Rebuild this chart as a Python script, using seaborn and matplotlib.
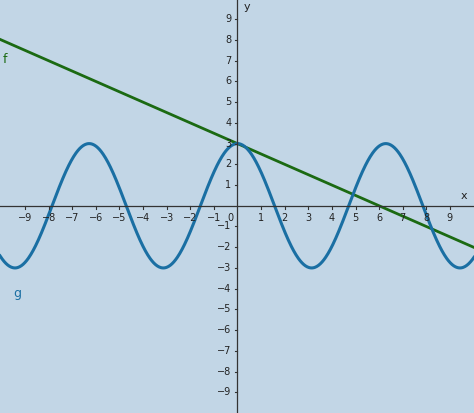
import numpy as np
import pandas as pd
import matplotlib
matplotlib.use("Agg")
import matplotlib.pyplot as plt
import seaborn as sns

f_slope = -0.5
f_intercept = 3.0
g_amplitude = 3.0
x_ticks = [-9, -8, -7, -6, -5, -4, -3, -2, -1, 1, 2, 3, 4, 5, 6, 7, 8, 9]
y_ticks = [-9, -8, -7, -6, -5, -4, -3, -2, -1, 1, 2, 3, 4, 5, 6, 7, 8, 9]
xlim = (-10.06, 10.02)
ylim = (-10.0, 9.93)

xs = np.linspace(xlim[0], xlim[1], 800)
df = pd.DataFrame({"x": xs, "f": f_slope * xs + f_intercept, "g": g_amplitude * np.cos(xs)})

bg = "#c2d6e6"
fig = plt.figure(figsize=(4.74, 4.13), dpi=100, facecolor=bg)
ax = fig.add_axes([0, 0, 1, 1])
ax.set_facecolor(bg)
sns.lineplot(data=df, x="x", y="f", ax=ax, color="#1b6a12", lw=2)
sns.lineplot(data=df, x="x", y="g", ax=ax, color="#1a6fa3", lw=2.2)
ax.set_xlim(*xlim)
ax.set_ylim(*ylim)
for s in ax.spines.values():
    s.set_visible(False)
ax.set_xticks([]); ax.set_yticks([])
ax.set_xlabel(""); ax.set_ylabel("")
ax.axhline(0, color="#333333", lw=0.9)
ax.axvline(0, color="#333333", lw=0.9)
fs = 7
for t in x_ticks:
    ax.plot([t, t], [0, -0.15], color="#333333", lw=0.8)
    ax.text(t, -0.35, f"{t}".replace("-", "−"), ha="center", va="top", fontsize=fs, color="#222222")
ax.text(-0.3, -0.35, "0", ha="center", va="top", fontsize=fs, color="#222222")
for t in y_ticks:
    ax.plot([0, -0.12], [t, t], color="#333333", lw=0.8)
    ax.text(-0.25, t, f"{t}".replace("-", "−"), ha="right", va="center", fontsize=fs, color="#222222")
ax.text(0.25, 9.6, "y", fontsize=8, color="#222222", va="center")
ax.text(9.6, 0.35, "x", fontsize=8, color="#222222", ha="center")
ax.text(-9.95, 6.9, "f", fontsize=9, color="#1b6a12")
ax.text(-9.5, -4.4, "g", fontsize=9, color="#1a6fa3")
fig.savefig("out.png", dpi=100, facecolor=bg)
